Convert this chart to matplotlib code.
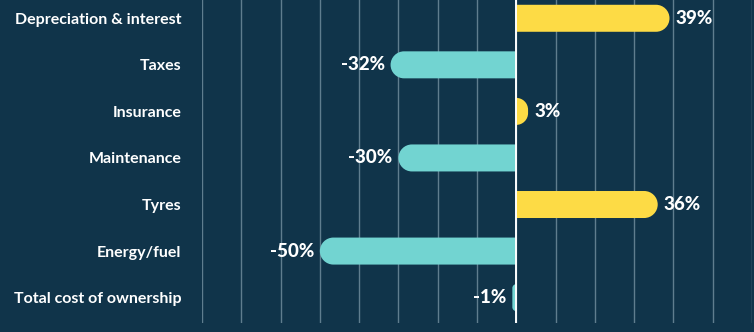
import numpy as np
import matplotlib.pyplot as plt
from matplotlib.path import Path
from matplotlib.patches import PathPatch

categories = ["Depreciation & interest", "Taxes", "Insurance", "Maintenance",
              "Tyres", "Energy/fuel", "Total cost of ownership"]
values = [39, -32, 3, -30, 36, -50, -1]
labels = ["39%", "-32%", "3%", "-30%", "36%", "-50%", "-1%"]

bg = "#10344a"
pos_col = "#fddb45"
neg_col = "#72d4d1"
grid_col = "#5f7d8e"

W, H, DPI = 754, 332, 100
fig = plt.figure(figsize=(W / DPI, H / DPI), dpi=DPI, facecolor=bg)
# axes in pixel terms: x 202..752, y -5..323 (from top)
ax = fig.add_axes([202 / W, (H - 323) / H, 550 / W, 328 / H], facecolor=bg)
ax.set_xlim(-80, 60)
ax.set_ylim(6.545, -0.5)

for s in ax.spines.values():
    s.set_visible(False)
ax.set_xticks(np.arange(-80, 61, 10))
ax.tick_params(axis="x", length=0, labelbottom=False)
ax.grid(axis="x", color=grid_col, lw=1)
ax.set_axisbelow(True)
ax.axvline(0, color="white", lw=1.4, zorder=3)

y = np.arange(len(categories))
ax.set_yticks(y)
ax.set_yticklabels(categories, color="white", fontsize=11.5, fontfamily="Lato",
                   fontweight="bold")
ax.tick_params(axis="y", length=0, pad=15)

# pixel scales for rounded ends
px_x = 550 / 140.0
px_y = 328 / 7.045
bar_h = 0.58
hh = bar_h / 2
k = 0.5523

for yi, v, lab in zip(y, values, labels):
    s = 1 if v >= 0 else -1
    w_px = abs(v) * px_x
    rr = min(hh * px_y, w_px)
    rx = rr / px_x
    ry = rr / px_y
    yb, yt = yi + hh, yi - hh
    e = v
    verts = [(0, yb), (e - s * rx, yb),
             (e - s * rx + s * k * rx, yb), (e, yb - ry + k * ry), (e, yb - ry),
             (e, yt + ry),
             (e, yt + ry - k * ry), (e - s * rx + s * k * rx, yt), (e - s * rx, yt),
             (0, yt), (0, yb)]
    codes = [Path.MOVETO, Path.LINETO,
             Path.CURVE4, Path.CURVE4, Path.CURVE4,
             Path.LINETO,
             Path.CURVE4, Path.CURVE4, Path.CURVE4,
             Path.LINETO, Path.CLOSEPOLY]
    ax.add_patch(PathPatch(Path(verts, codes), facecolor=pos_col if v >= 0 else neg_col,
                           edgecolor="none", zorder=2))
    ax.annotate(lab, (v, yi), xytext=(6 * s, 0), textcoords="offset pixels",
                ha="left" if v >= 0 else "right", va="center", color="white",
                fontsize=13.5, fontfamily="Lato", fontweight="black")

fig.savefig("out.png", dpi=DPI, facecolor=bg)
